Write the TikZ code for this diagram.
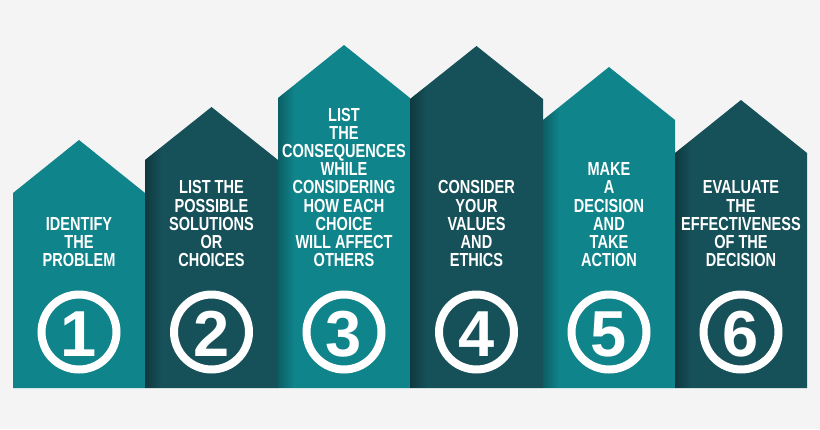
\documentclass[tikz,border=0pt]{standalone}
\usepackage{fontspec}
\setmainfont{Liberation Sans}[FakeStretch=0.77]
\newfontfamily\digitfont{Liberation Sans}
\usetikzlibrary{fadings}
\definecolor{bgc}{HTML}{F4F4F4}
\definecolor{tealA}{HTML}{10848B}
\definecolor{tealB}{HTML}{165059}
\tikzset{
  lbl/.style={text=white, align=center, inner sep=0pt, anchor=south,
    font=\bfseries\fontsize{18.9}{18.2}\selectfont},
  ring/.style={draw=white, line width=8pt},
  digit/.style={text=white, inner sep=0pt, anchor=base,
    font=\digitfont\bfseries\fontsize{65}{65}\selectfont}
}
\newcommand{\stepshape}[5]{% x0 x1 shoulder tip colour
  \begin{scope}
    \path[fill=#5] (#1,388) -- (#1,#3) -- ({(#1+#2)/2},#4) -- (#2,#3) -- (#2,388) -- cycle;
    \clip (#1,388) -- (#1,#3) -- ({(#1+#2)/2},#4) -- (#2,#3) -- (#2,388) -- cycle;
    \fill[black, opacity=0.28, path fading=east] (#1,#4) rectangle ({#1+16},388);
  \end{scope}}
\begin{document}
\begin{tikzpicture}[x=1pt, y=-1pt]
\fill[bgc] (0,0) rectangle (820,429);
\useasboundingbox (0,0) rectangle (820,429);
% arrows
\path[fill=tealA] (13,388) -- (13,193) -- (79,140) -- (145,193) -- (145,388) -- cycle;
\stepshape{145}{278}{160}{107}{tealB}
\stepshape{278}{410}{98}{45}{tealA}
\stepshape{410}{543}{99}{46}{tealB}
\stepshape{543}{675}{120}{67}{tealA}
\stepshape{675}{807}{153}{100}{tealB}
% labels
\node[lbl] (t1) at (79,267) {IDENTIFY\\THE\\PROBLEM};
\node[lbl] (t2) at (211.5,267) {LIST THE\\POSSIBLE\\SOLUTIONS\\OR\\CHOICES};
\node[lbl] (t3) at (344,267) {LIST\\THE\\CONSEQUENCES\\WHILE\\CONSIDERING\\HOW EACH\\CHOICE\\WILL AFFECT\\OTHERS};
\node[lbl] (t4) at (476.5,267) {CONSIDER\\YOUR\\VALUES\\AND\\ETHICS};
\node[lbl] (t5) at (609,267) {MAKE\\A\\DECISION\\AND\\TAKE\\ACTION};
\node[lbl] (t6) at (741,267) {EVALUATE\\THE\\EFFECTIVENESS\\OF THE\\DECISION};
% numbered circles
\foreach \i/\cx in {1/79, 2/211.5, 3/344, 4/476.5, 5/609, 6/741} {
  \draw[ring] (\cx,332) circle (37.5);
  \node[digit] (n\i) at (\cx,356) {\i};
}
\end{tikzpicture}
\end{document}
